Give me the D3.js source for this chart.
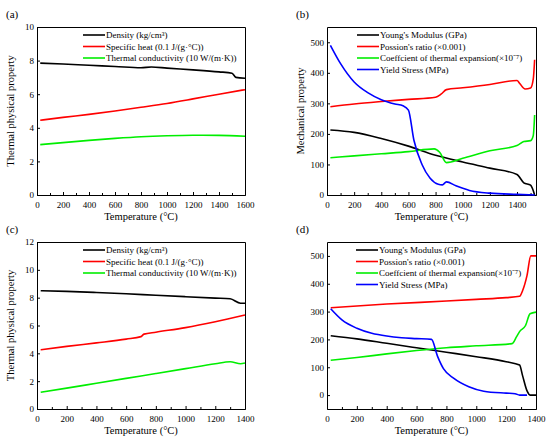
<!DOCTYPE html><html><head><meta charset="utf-8"><script src="https://cdn.jsdelivr.net/npm/d3@7"></script>
<style>body{margin:0;background:#fff}text{font-family:"Liberation Serif","Times New Roman",serif;font-weight:normal}</style></head><body>
<svg id="s" width="550" height="441"></svg>
<script>
// Panel (a)
const aDensity=[[25,7.85],[200,7.8],[400,7.72],[600,7.65],[800,7.57],[880,7.62],[1000,7.55],[1200,7.45],[1400,7.33],[1500,7.25],[1530,7.0],[1600,6.95]];
const aHeat=[[25,4.45],[200,4.62],[400,4.8],[600,5.0],[800,5.22],[1000,5.45],[1200,5.72],[1400,6.0],[1600,6.27]];
const aCond=[[25,3.0],[200,3.12],[400,3.25],[600,3.37],[800,3.47],[1000,3.53],[1200,3.56],[1400,3.55],[1600,3.5]];
// Panel (b)
const bYoung=[[25,213],[200,205],[400,185],[600,160],[800,130],[1000,108],[1200,88],[1400,67],[1450,40],[1500,32],[1530,0]];
const bPoisson=[[25,289],[200,298],[400,306],[600,313],[800,320],[840,330],[880,345],[1000,351],[1200,362],[1400,375],[1420,365],[1460,347],[1500,350],[1520,380],[1530,443]];
const bCTE=[[25,122],[200,128],[400,135],[600,142],[790,151],[830,140],[880,106],[1000,120],[1200,145],[1400,162],[1450,175],[1500,178],[1520,195],[1530,262]];
const bYield=[[25,490],[100,430],[200,370],[300,335],[400,312],[500,298],[560,292],[600,278],[640,180],[700,100],[760,55],[820,35],[850,33],[880,43],[950,30],[1050,15],[1200,6],[1400,2],[1530,0]];
// Panel (c)
const cDensity=[[25,8.5],[200,8.45],[400,8.37],[600,8.28],[800,8.17],[1000,8.07],[1200,7.97],[1300,7.92],[1370,7.6],[1400,7.6]];
const cHeat=[[25,4.25],[200,4.5],[400,4.75],[600,5.02],[700,5.2],[720,5.38],[800,5.52],[1000,5.85],[1200,6.27],[1400,6.75]];
const cCond=[[25,1.2],[200,1.5],[400,1.85],[600,2.2],[800,2.55],[1000,2.9],[1200,3.25],[1300,3.4],[1370,3.25],[1400,3.3]];
// Panel (d)
const dYoung=[[25,213],[200,202],[400,186],[600,170],[800,154],[1000,138],[1200,120],[1290,108],[1310,70],[1340,15],[1360,0],[1400,0]];
const dPoisson=[[25,314],[400,327],[800,338],[1000,344],[1200,350],[1290,355],[1310,375],[1340,430],[1365,500],[1400,500]];
const dCTE=[[25,125],[200,135],[400,148],[600,160],[800,170],[1000,177],[1240,185],[1270,210],[1290,228],[1330,250],[1360,292],[1400,298]];
const dYield=[[25,310],[100,270],[200,240],[300,222],[400,212],[500,206],[600,203],[700,200],[740,140],[780,95],[850,60],[950,30],[1050,14],[1200,7],[1260,5],[1290,0],[1340,0]];
const thLabels=["Density (kg/cm³)","Specific heat (0.1 J/(g·°C))","Thermal conductivity  (10 W/(m·K))"];
const mLabels=["Young's Modulus (GPa)","Possion's ratio (×0.001)","Coeffcient of thermal expansion(×10⁻⁷)","Yield Stress (MPa)"];
const thColors=["#000","#f00","#0e0"], mColors=["#000","#f00","#0e0","#00f"];
const svg=d3.select("#s");
function panel(o){
 const g=svg.append("g");
 const x=d3.scaleLinear().domain(o.xd).range([o.l,o.r]);
 const y=d3.scaleLinear().domain(o.yd).range([o.b,o.t]);
 const f=d3.format("d");
 g.append("g").attr("transform",`translate(0,${o.b})`).call(d3.axisBottom(x).tickValues(o.xt).tickFormat(f).tickSize(-3).tickSizeOuter(0)).call(a=>a.selectAll("text").attr("dy","1.1em"));
 g.append("g").attr("transform",`translate(${o.l},0)`).call(d3.axisLeft(y).tickValues(o.yt).tickFormat(f).tickSize(-3).tickSizeOuter(0));
 g.append("g").attr("transform",`translate(0,${o.t})`).call(d3.axisTop(x).tickValues([]).tickSizeOuter(0));
 g.append("g").attr("transform",`translate(${o.r},0)`).call(d3.axisRight(y).tickValues([]).tickSizeOuter(0));
 const mx=[];for(let v=o.xd[0]+100;v<o.xd[1];v+=200)mx.push(v);
 g.append("g").attr("transform",`translate(0,${o.b})`).call(d3.axisBottom(x).tickValues(mx).tickSize(-2).tickFormat("").tickSizeOuter(0));
 g.selectAll("g").attr("font-family","Liberation Serif");
 g.selectAll(".tick text").attr("font-size",9);
 g.selectAll(".domain,.tick line").attr("stroke","#000");
 const line=d3.line().x(d=>x(d[0])).y(d=>y(d[1])).curve(d3.curveMonotoneX);
 o.series.forEach((s,i)=>g.append("path").attr("d",line(s)).attr("fill","none").attr("stroke",o.colors[i]).attr("stroke-width",1.6));
 o.labels.forEach((t,i)=>{const ly=o.t+8+i*11.5;
  g.append("line").attr("x1",o.lx).attr("x2",o.lx+22).attr("y1",ly).attr("y2",ly).attr("stroke",o.colors[i]).attr("stroke-width",1.6);
  g.append("text").attr("x",o.lx+23).attr("y",ly+3).attr("font-size",9).text(t);});
 g.append("text").attr("x",(o.l+o.r)/2).attr("y",o.b+25).attr("text-anchor","middle").attr("font-size",10.5).text("Temperature (°C)");
 g.append("text").attr("transform",`translate(${o.l-23},${(o.t+o.b)/2}) rotate(-90)`).attr("text-anchor","middle").attr("font-size",10.5).text(o.ylab);
 g.append("text").attr("x",o.l-31).attr("y",o.t-9).attr("font-size",11).text(o.tag);
}
panel({tag:"(a)",l:37,r:245,t:27,b:195,xd:[0,1600],yd:[0,10],xt:d3.range(0,1601,200),yt:[0,2,4,6,8,10],series:[aDensity,aHeat,aCond],colors:thColors,labels:thLabels,lx:83,ylab:"Thermal physical property"});
panel({tag:"(b)",l:327,r:536,t:27,b:195,xd:[0,1540],yd:[0,550],xt:d3.range(0,1401,200),yt:[0,100,200,300,400,500],series:[bYoung,bPoisson,bCTE,bYield],colors:mColors,labels:mLabels,lx:357,ylab:"Mechanical property"});
panel({tag:"(c)",l:37,r:245,t:242,b:409,xd:[0,1400],yd:[0,12],xt:d3.range(0,1401,200),yt:[0,2,4,6,8,10,12],series:[cDensity,cHeat,cCond],colors:thColors,labels:thLabels,lx:83,ylab:"Thermal physical property"});
panel({tag:"(d)",l:327,r:536,t:242,b:409,xd:[0,1400],yd:[-50,550],xt:d3.range(0,1401,200),yt:[0,100,200,300,400,500],series:[dYoung,dPoisson,dCTE,dYield],colors:mColors,labels:mLabels,lx:356,ylab:""});
</script></body></html>
